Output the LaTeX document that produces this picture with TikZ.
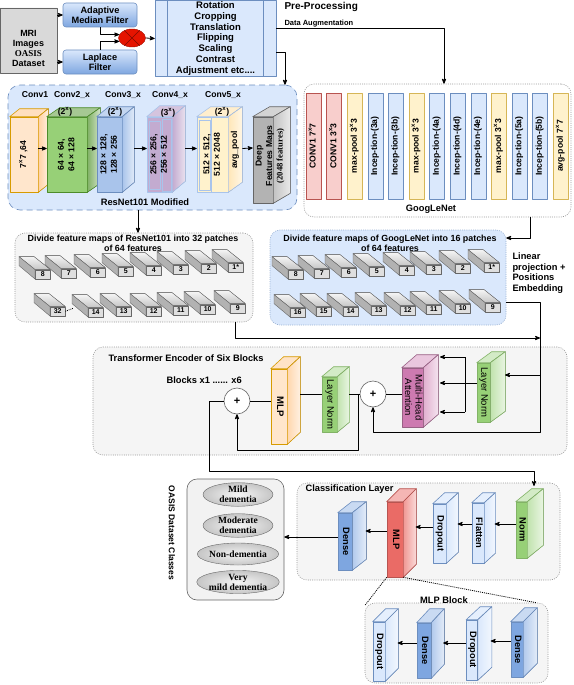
\documentclass[tikz,border=0pt]{standalone}
\usepackage{fontspec}
\setmainfont{Liberation Sans}
\newfontfamily\serifface{Liberation Serif}
\usetikzlibrary{arrows,positioning,shapes.geometric,calc}

\definecolor{peach}{HTML}{FFE6CC}
\definecolor{peachline}{HTML}{D79B00}
\definecolor{leaf}{HTML}{97D077}
\definecolor{leafline}{HTML}{82B366}
\definecolor{moss}{HTML}{4D8C2A}
\definecolor{sky}{HTML}{DAE8FC}
\definecolor{skyline}{HTML}{6C8EBF}
\definecolor{skydeep}{HTML}{7EA6E0}
\definecolor{steel}{HTML}{A9C4EB}
\definecolor{lilac}{HTML}{C3ABD0}
\definecolor{lilacline}{HTML}{9673A6}
\definecolor{cream}{HTML}{FFF2CC}
\definecolor{creamline}{HTML}{D6B656}
\definecolor{rosy}{HTML}{F8CECC}
\definecolor{rosyline}{HTML}{B85450}
\definecolor{coral}{HTML}{EA6B66}
\definecolor{orchid}{HTML}{CD7AB0}
\definecolor{orchidline}{HTML}{996185}
\definecolor{ash}{HTML}{F5F5F5}
\definecolor{ashline}{HTML}{9A9A9A}
\definecolor{slate}{HTML}{B3B3B3}
\definecolor{slateline}{HTML}{666666}
\definecolor{alarm}{HTML}{E51400}

\newcommand{\vtext}[1]{\rotatebox{90}{\begin{tabular}{@{}c@{}}#1\end{tabular}}}
\newcommand{\dtext}[1]{\rotatebox{-90}{\begin{tabular}{@{}c@{}}#1\end{tabular}}}
% top and side faces of a block
\newcommand{\cubeside}[5]{%
  \filldraw[fill=#4!70!white, draw=#5, line width=0.6pt] (#1.north west) -- ++(#2,-#3) -- ++($(#1.north east)-(#1.north west)$) -- (#1.north east) -- cycle;
  \filldraw[left color=#4, right color=#4!35!white, draw=#5, line width=0.6pt] (#1.north east) -- ++(#2,-#3) -- ++($(#1.south east)-(#1.north east)$) -- (#1.south east) -- cycle;}
% one feature patch
\newcommand{\patch}[4]{%
  \node[tile] (#1) at (#2,#3) {#4};
  \filldraw[draw=slateline, top color=gray!8, bottom color=gray!45] (#1.north west) -- ++(-16,-13) -- ++(15,0) -- (#1.north east) -- cycle;
  \filldraw[draw=slateline, fill=gray!60] (#1.north west) -- ++(-16,-13) -- ++(0,9) -- (#1.south west) -- cycle;}

\begin{document}
\begin{tikzpicture}[x=1pt, y=-1pt, >=stealth', line join=round,
  font=\bfseries\fontsize{9.3}{10.5}\selectfont,
  box/.style={draw=ashline, fill=ash, rounded corners=10pt, dash pattern=on 1pt off 1.2pt, line width=0.6pt, inner sep=0pt},
  face/.style={draw, line width=0.6pt, inner sep=0pt, align=center},
  numtext/.style={font=\bfseries\fontsize{8.6}{10.5}\selectfont},
  blocktext/.style={font=\bfseries\fontsize{9.3}{10}\selectfont},
  lighttext/.style={font=\fontsize{9.5}{10.5}\selectfont},
  sum/.style={circle, draw=slateline, fill=white, line width=0.6pt, minimum size=26pt, inner sep=0pt, font=\bfseries\fontsize{11}{11}\selectfont},
  link/.style={->, line width=0.8pt},
  wire/.style={line width=0.8pt},
  tile/.style={draw=slateline, fill=gray!25, inner sep=0pt, anchor=south west, minimum width=15pt, minimum height=9pt, font=\bfseries\fontsize{7}{7}\selectfont},
  gcol/.style={face, minimum width=15pt, minimum height=106pt, font=\bfseries\fontsize{8.6}{9}\selectfont},
  category/.style={ellipse, draw=slateline, inner color=gray!8, outer color=gray!45, minimum width=70pt, minimum height=22pt, inner sep=0pt, align=center, font=\serifface\bfseries\fontsize{9.5}{10}\selectfont},
  peachy/.style={fill=peach, draw=peachline},
  leafy/.style={fill=leaf, draw=leafline},
  skyey/.style={fill=sky, draw=skyline},
  deepsky/.style={fill=skydeep, draw=skyline},
  coraly/.style={fill=coral, draw=rosyline},
  orchidy/.style={fill=orchid, draw=orchidline}]

  \useasboundingbox (0,0) rectangle (573,685);

  % input, filters and augmentation
  \node[shape=cylinder, shape border rotate=90, aspect=0.25, draw=slateline, cylinder uses custom fill, cylinder body fill=gray!30, cylinder end fill=gray!12, minimum width=57pt, minimum height=65pt, inner sep=0pt] (mri) at (28.5,40.5) {};
  \node[align=center, font=\bfseries\fontsize{9}{10}\selectfont] (mritext) at (28.5,48.5) {MRI\\Images\\{\serifface OASIS}\\Dataset};
  \node[face, rounded corners=3pt, top color=sky, bottom color=skydeep, draw=skyline, minimum width=74pt, minimum height=24pt, font=\bfseries\fontsize{9.2}{10}\selectfont] (amf) at (100,15) {Adaptive\\Median Filter};
  \node[face, rounded corners=3pt, top color=sky, bottom color=skydeep, draw=skyline, minimum width=74pt, minimum height=24pt, font=\bfseries\fontsize{9.2}{10}\selectfont] (lap) at (100,62) {Laplace\\Filter};
  \node[ellipse, fill=alarm, draw=alarm!70!black, minimum width=27pt, minimum height=18pt, inner sep=0pt] (mix) at (132,38) {};
  \draw[alarm!55!black, line width=0.6pt] (mix.45) -- (mix.225) (mix.135) -- (mix.315);
  \node[face, skyey, minimum width=121pt, minimum height=76pt, font=\bfseries\fontsize{9.5}{10.8}\selectfont] (aug) at (215.5,38.5) {Rotation\\Cropping\\Translation\\Flipping\\Scaling\\Contrast\\Adjustment etc....};
  \draw[skyline, line width=0.6pt] ([xshift=13pt]aug.north west) -- ([xshift=13pt]aug.south west) ([xshift=-13pt]aug.north east) -- ([xshift=-13pt]aug.south east);
  \node[anchor=west, font=\bfseries\fontsize{10}{11}\selectfont] (pre) at (281,7) {Pre-Processing};
  \node[below=1pt of pre.south west, anchor=north west, inner xsep=3.3pt, font=\bfseries\fontsize{7.5}{8}\selectfont] (pretext) {Data Augmentation};

  % ResNet101
  \node[face, fill=sky, draw=skyline, dash pattern=on 6pt off 4pt, rounded corners=12pt, minimum width=289pt, minimum height=125pt] (res) at (152.5,147.5) {};
  \node[font=\bfseries\fontsize{8.6}{10}\selectfont] (l1) at (35,95) {Conv1};
  \node[font=\bfseries\fontsize{8.6}{10}\selectfont] (l2) at (72,95) {Conv2\_x};
  \node[font=\bfseries\fontsize{8.6}{10}\selectfont] (l3) at (123,95) {Conv3\_x};
  \node[font=\bfseries\fontsize{8.6}{10}\selectfont] (l4) at (170,95) {Conv4\_x};
  \node[font=\bfseries\fontsize{8.6}{10}\selectfont] (l5) at (223,95) {Conv5\_x};

  \node[face, peachy, minimum width=28pt, minimum height=75pt, numtext] (c1) at (24,154.5) {\vtext{7\textsuperscript{x}7 ,64}};
  \cubeside{c1}{10}{8}{peach!80!orange}{peachline}
  \node[face, fill=leaf, draw=moss, minimum width=40pt, minimum height=75pt, numtext] (c2) at (67,154.5) {\vtext{64 × 64,\\64 × 128}};
  \cubeside{c2}{13}{9}{leaf!85!black}{moss}
  \node[face, fill=steel, draw=skyline, minimum width=25pt, minimum height=75pt, numtext] (c3) at (109.5,154.5) {\vtext{128 × 128,\\128 × 256}};
  \cubeside{c3}{12}{10}{steel}{skyline}
  \node[face, fill=lilac, draw=steel, minimum width=25pt, minimum height=75pt] (c4) at (159.5,154.5) {};
  \draw[steel, line width=0.6pt] (149,121) rectangle (160.5,189) (162.5,119) rectangle (171,191);
  \node[numtext] (c4text) at (c4) {\vtext{256 × 256,\\256 × 512}};
  \cubeside{c4}{13}{11}{lilac}{steel}
  \node[face, fill=cream, draw=steel, minimum width=31pt, minimum height=75pt] (c5) at (212.5,154.5) {};
  \draw[steel, line width=0.6pt] (199,120) rectangle (210,190) (211.5,118) -- (211.5,192);
  \node[numtext] (c5text) at (212.5,154.5) {\vtext{512 × 512,\\512 × 2048}};
  \cubeside{c5}{14}{10}{cream!90!orange}{steel}
  \node[numtext] (pool) at (235,150) {\vtext{avg\_pool}};
  \node[face, fill=slate, draw=slateline, minimum width=20pt, minimum height=86pt] (deep) at (263,160) {};
  \cubeside{deep}{17}{10}{slate!80!white}{slateline}
  \node[numtext] (deeptext) at (270,156) {\vtext{Deep\\Features Maps\\{\serifface (2048 features)}}};

  \node[numtext] (t2) at (65,112) {(2\textsuperscript{x})};
  \node[numtext] (t3) at (115,112) {(2\textsuperscript{x})};
  \node[numtext] (t4) at (168,113) {(3\textsuperscript{x})};
  \node[numtext] (t5) at (222,112) {(2\textsuperscript{x})};
  \node (resname) at (145,202) {ResNet101 Modified};

  \draw[link] ([yshift=6pt]c1.east) -- ([yshift=6pt]c2.west);
  \draw[link] ([yshift=6pt]c2.east) -- ([yshift=6pt]c3.west);
  \draw[link] ([xshift=12pt,yshift=6pt]c3.east) -- ([yshift=6pt]c4.west);
  \draw[link] ([xshift=13pt,yshift=6pt]c4.east) -- ([yshift=6pt]c5.west);
  \draw[link] ([xshift=14pt,yshift=6pt]c5.east) -- ([yshift=12pt]deep.west);

  % GoogLeNet
  \node[box, fill=white, minimum width=267pt, minimum height=133pt] (goog) at (437.5,150.5) {};
  \foreach \k/\fc/\lc/\txt in {0/rosy/rosyline/{CONV1 7\textsuperscript{x}7}, 1/rosy/rosyline/{CONV1 3\textsuperscript{x}3},
      2/cream/creamline/{max-pool 3\textsuperscript{x}3}, 3/sky/skyline/{Incep-tion-(3a)}, 4/sky/skyline/{Incep-tion-(3b)},
      5/cream/creamline/{max-pool 3\textsuperscript{x}3}, 6/sky/skyline/{Incep-tion-(4a)}, 7/sky/skyline/{Incep-tion-(4d)},
      8/sky/skyline/{Incep-tion-(4e)}, 9/cream/creamline/{max-pool 3\textsuperscript{x}3}, 10/sky/skyline/{Incep-tion-(5a)},
      11/sky/skyline/{Incep-tion-(5b)}, 12/cream/creamline/{avg-pool 7\textsuperscript{x}7}}
    {\node[gcol, fill=\fc, draw=\lc] (g\k) at (313.5+20.6*\k,146) {\vtext{\txt}};}
  \node (googname) at (431,209) {GoogLeNet};

  % patches
  \node[box, minimum width=238pt, minimum height=89pt] (rpatch) at (134,277.5) {};
  \node[align=center, font=\bfseries\fontsize{8.9}{10}\selectfont] (rtitle) at (133,243) {Divide feature maps of ResNet101 into 32 patches\\of 64 features};
  \foreach \n/\x/\y [count=\i] in {8/35/279, 7/61/278, 6/90/277, 5/118/276, 4/146/275, 3/173/274, 2/201/273, 1*/228/272,
      32/50/316, 14/88/317, 13/116/316, 12/146/316, 11/173/315, 10/200/314, 9/230/313}
    {\patch{rp\i}{\x}{\y}{\n}}
  \draw[densely dotted, line width=0.8pt] (rp9.east) -- ([xshift=-15pt,yshift=4pt]rp10.west);

  \node[box, fill=sky, draw=skyline!70, minimum width=236pt, minimum height=95pt] (gpatch) at (388,277.5) {};
  \node[align=center, font=\bfseries\fontsize{8.9}{10}\selectfont] (gtitle) at (390,243) {Divide feature maps of GoogLeNet into 16 patches\\of 64 features};
  \foreach \n/\x/\y [count=\i] in {8/288/279, 7/314/278, 6/341/277, 5/369/276, 4/399/275, 3/426/274, 2/455/273, 1*/484/272,
      16/290/317, 15/316/316, 14/343/316, 13/371/315, 12/400/315, 11/426/314, 10/455/313, 9/485/312}
    {\patch{gp\i}{\x}{\y}{\n}}
  \node[anchor=west, align=left] (linproj) at (509,273) {Linear\\projection +\\Positions\\Embedding};

  % transformer encoder
  \node[box, minimum width=474pt, minimum height=108pt] (enc) at (330,401) {};
  \node[anchor=west] (enctitle) at (105,358) {Transformer Encoder of Six Blocks};
  \node[anchor=west] (blocks) at (163,380) {Blocks x1 ...... x6};
  \node[sum] (plusA) at (237,401) {+};
  \node[face, peachy, minimum width=16pt, minimum height=75pt, font=\bfseries\fontsize{9.5}{10}\selectfont] (mlpt) at (279,406.5) {\dtext{MLP}};
  \cubeside{mlpt}{13}{12}{peach!85!orange}{peachline}
  \node[face, leafy, minimum width=15pt, minimum height=55pt, lighttext] (lnA) at (329.5,404.5) {\dtext{Layer Norm}};
  \cubeside{lnA}{12}{10}{leaf!60!white}{leafline}
  \node[sum] (plusB) at (373,394) {+};
  \node[face, orchidy, minimum width=21pt, minimum height=59pt, lighttext] (mha) at (412.5,397.5) {\dtext{Multi-Head\\Attention}};
  \cubeside{mha}{15}{13}{orchid!60!white}{orchidline}
  \node[face, leafy, minimum width=13pt, minimum height=59pt, lighttext] (lnB) at (483.5,392.5) {\dtext{Layer Norm}};
  \cubeside{lnB}{15}{11}{leaf!60!white}{leafline}

  % classification
  \node[box, minimum width=263pt, minimum height=97pt] (cls) at (428.5,531.5) {};
  \node[anchor=west] (clstitle) at (302,489) {Classification Layer};
  \node[face, leafy, minimum width=11pt, minimum height=56pt, blocktext] (cnorm) at (521.5,530) {\dtext{Norm}};
  \cubeside{cnorm}{16}{13}{leaf!60!white}{leafline}
  \node[face, skyey, minimum width=12pt, minimum height=60pt, blocktext] (cflat) at (478,533) {\dtext{Flatten}};
  \cubeside{cflat}{11}{10}{sky}{skyline}
  \node[face, skyey, minimum width=13pt, minimum height=59pt, blocktext] (cdrop) at (439.5,533.5) {\dtext{Dropout}};
  \cubeside{cdrop}{12}{11}{sky}{skyline}
  \node[face, coraly, minimum width=16pt, minimum height=75pt, blocktext] (cmlp) at (395,539.5) {\dtext{MLP}};
  \cubeside{cmlp}{13}{13}{coral!70!white}{rosyline}
  \node[face, deepsky, minimum width=14pt, minimum height=57pt, blocktext] (cdense) at (345,541.5) {\dtext{Dense}};
  \cubeside{cdense}{14}{11}{skydeep!60!white}{skyline}

  % dataset classes
  \node[draw=slateline, fill=gray!10, rounded corners=10pt, line width=0.6pt, minimum width=97pt, minimum height=121pt, inner sep=0pt] (classes) at (235.5,539.5) {};
  \node[category] (k1) at (238,494.5) {Mild\\dementia};
  \node[category] (k2) at (238,525.5) {Moderate\\dementia};
  \node[category] (k3) at (238,554) {Non-dementia};
  \node[category] (k4) at (238,582) {Very\\mild dementia};
  \node[rotate=-90, font=\bfseries\fontsize{8.5}{9}\selectfont] (oasis) at (172,533) {OASIS Dataset Classes};

  % MLP block
  \node[box, minimum width=183pt, minimum height=80pt] (mlpbox) at (456.5,643) {};
  \node (mlptitle) at (444,600) {MLP Block};
  \node[face, deepsky, minimum width=12pt, minimum height=55pt, blocktext] (md1) at (517,649.5) {\dtext{Dense}};
  \cubeside{md1}{14}{14}{skydeep!60!white}{skyline}
  \node[face, skyey, minimum width=11pt, minimum height=60pt, blocktext] (mr1) at (472,650) {\dtext{Dropout}};
  \cubeside{mr1}{14}{13}{sky}{skyline}
  \node[face, deepsky, minimum width=14pt, minimum height=55pt, blocktext] (md2) at (424,650.5) {\dtext{Dense}};
  \cubeside{md2}{13}{14}{skydeep!60!white}{skyline}
  \node[face, skyey, minimum width=12pt, minimum height=59pt, blocktext] (mr2) at (379,651.5) {\dtext{Dropout}};
  \cubeside{mr2}{13}{13}{sky}{skyline}

  % connectors
  \draw[link] (mri.east |- amf) -- (amf.west);
  \draw[link] (mri.east |- lap) -- (lap.west);
  \draw[link] (amf.south) |- (mix.165);
  \draw[link] (lap.north) |- (mix.195);
  \draw[link] (mix.east) -- (aug.west);
  \coordinate (gtop) at (444,28);
  \draw[link] (aug.east |- gtop) -- (gtop) -- (gtop |- goog.north);
  \coordinate (rtop) at (285,52);
  \draw[link] (aug.east |- rtop) -- (rtop) -- (rtop |- res.north);

  \coordinate (rdrop) at (138,215);
  \draw[link] (res.south -| rdrop) -- (rpatch.north -| rdrop);
  \coordinate (gdrop) at (530,238);
  \draw[link] (goog.south -| gdrop) -- (gdrop) -- (gpatch.east |- gdrop);

  \coordinate (rail) at (540,302);
  \coordinate (railfoot) at (540,432);
  \coordinate (lefttap) at (235,338);
  \coordinate (lntap) at (505,375);
  \draw[link] (gpatch.east |- rail) -- (rail) -- (railfoot) -| (plusB.south);
  \draw[link] (rpatch.south -| lefttap) |- (rail |- lefttap);
  \draw[link] (rail |- lntap) -- (lntap);

  \coordinate (fork) at (465,383);
  \coordinate (mhain) at (440,383);
  \draw[link] (lnB.west |- fork) -- (mhain);
  \draw[link] ([yshift=26pt]fork) -- ([yshift=26pt]mhain);
  \draw[link] ([yshift=-29pt]fork) -- ([yshift=-29pt]mhain);
  \draw[wire] ([yshift=26pt]fork) -- ([yshift=-29pt]fork);
  \draw[wire] (mha.west |- plusB) -- (plusB.east);
  \draw[wire] (plusB.west) -- ++(-11,0);
  \coordinate (skipB) at (358,394);
  \draw[link] (skipB) -- ++(0,56) -| (plusA.south);
  \draw[wire] (lnA.west |- plusB) -- ++(-22,0);
  \draw[wire] (mlpt.west |- plusA) -- (plusA.east);
  \coordinate (downturn) at (209,471);
  \coordinate (normin) at (534,486);
  \draw[link] (plusA.west) -| (downturn) -| (normin);

  \draw[link] ([yshift=6pt]cnorm.west) -- ++(-21,0);
  \draw[link] ([yshift=9pt]cflat.west) -- ++(-14,0);
  \draw[link] ([yshift=6.5pt]cdrop.west) -- ++(-17,0);
  \draw[link] ([yshift=8.5pt]cmlp.west) -- ++(-21,0);
  \draw[link] ([yshift=4.5pt]cdense.west) -- ([yshift=4.5pt]cdense.west -| classes.east);

  \draw[dash pattern=on 1pt off 1pt, line width=0.8pt] (cmlp.south west) -- ([yshift=-3pt]mlpbox.north west);
  \draw[dash pattern=on 1pt off 1pt, line width=0.8pt] (cmlp.south east) -- ([xshift=-12pt]mlpbox.north east);
  \draw[link] ([yshift=8.5pt]md1.west) -- ++(-20,0);
  \draw[link] ([yshift=7pt]mr1.west) -- ++(-23,0);
  \draw[link] ([yshift=7.5pt]md2.west) -- ++(-19,0);
\end{tikzpicture}
\end{document}
